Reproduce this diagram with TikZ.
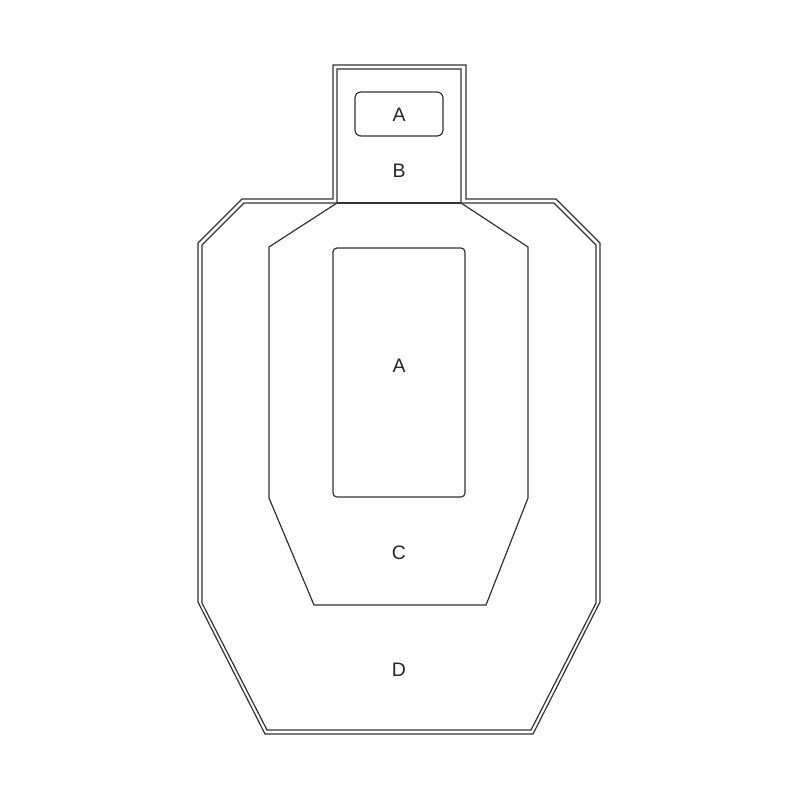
\documentclass[tikz,border=0pt]{standalone}
\usepackage{fontspec}
\setmainfont{Liberation Sans}
\begin{document}
\begin{tikzpicture}[x=1pt,y=-1pt,
  edge/.style={draw=black!80, line width=1.2pt, line join=miter},
  lbl/.style={font=\fontsize{19.5}{22}\selectfont, text=black!85, inner sep=0pt}]
\useasboundingbox (0,0) rectangle (800,800);
% outer outline
\draw[edge] (333,65) -- (466,65) -- (466,199) -- (556,199) -- (600,243) -- (600,602) -- (533,734) -- (265,734) -- (198,602) -- (198,243) -- (242,199) -- (333,199) -- cycle;
% inner outline
\draw[edge] (337,69) -- (461,69) -- (461,203) -- (554,203) -- (596,245) -- (596,603) -- (531,730) -- (267,730) -- (202,603) -- (202,245) -- (244,203) -- (337,203) -- cycle;
% head bottom line
\draw[edge] (337,203) -- (461,203);
% C zone
\draw[edge] (337,203) -- (269,247) -- (269,498) -- (314,605) -- (486,605) -- (528,498) -- (528,247) -- (461,203);
% body A
\draw[edge, rounded corners=4pt] (333,248) rectangle (465,497);
% head A
\draw[edge, rounded corners=6pt] (355,92) rectangle (443,136);
\node[lbl] (ha) at (399,115) {A};
\node[lbl] (hb) at (399,171) {B};
\node[lbl] (ba) at (399,366) {A};
\node[lbl] (bc) at (399,553) {C};
\node[lbl] (bd) at (399,670) {D};
\end{tikzpicture}
\end{document}
